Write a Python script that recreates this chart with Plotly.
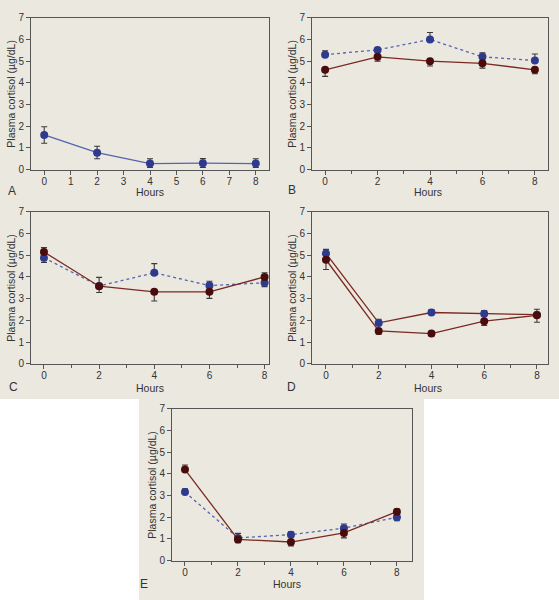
import plotly.graph_objects as go

W, H = 559, 600
BG = "#ebe8df"

hours = [0, 2, 4, 6, 8]

# Panel A (single series)
A_blue = [1.6, 0.78, 0.28, 0.30, 0.28]
A_blue_up = [0.38, 0.30, 0.22, 0.21, 0.22]
A_blue_dn = [0.38, 0.28, 0.18, 0.20, 0.18]

# Panel B
B_blue = [5.30, 5.52, 6.00, 5.20, 5.03]
B_blue_up = [0.18, 0.08, 0.32, 0.18, 0.30]
B_blue_dn = [0, 0, 0, 0, 0]
B_red = [4.60, 5.20, 5.00, 4.90, 4.60]
B_red_up = [0, 0, 0, 0, 0]
B_red_dn = [0.30, 0.20, 0.22, 0.22, 0.18]

# Panel C
C_blue = [4.88, 3.58, 4.19, 3.60, 3.73]
C_blue_up = [0, 0.40, 0.42, 0.20, 0]
C_blue_dn = [0.21, 0, 0, 0, 0.18]
C_red = [5.15, 3.57, 3.31, 3.31, 4.00]
C_red_up = [0.20, 0, 0, 0, 0.19]
C_red_dn = [0, 0.29, 0.42, 0.30, 0]

# Panel D
D_blue = [5.08, 1.88, 2.36, 2.30, 2.26]
D_blue_up = [0.19, 0.17, 0.14, 0.15, 0.25]
D_blue_dn = [0, 0, 0, 0, 0]
D_red = [4.79, 1.51, 1.39, 1.96, 2.23]
D_red_up = [0, 0, 0, 0, 0]
D_red_dn = [0.45, 0.15, 0.11, 0.20, 0.32]

# Panel E
E_blue = [3.16, 1.05, 1.20, 1.50, 2.00]
E_blue_up = [0.15, 0.21, 0.13, 0.19, 0]
E_blue_dn = [0, 0, 0, 0, 0.16]
E_red = [4.20, 0.98, 0.86, 1.28, 2.26]
E_red_up = [0.21, 0, 0, 0, 0.12]
E_red_dn = [0, 0.15, 0.18, 0.23, 0]

y_title = "Plasma cortisol (µg/dL)"
x_title = "Hours"
panel_letters = ["A", "B", "C", "D", "E"]

BLUE_M = "#2d3a8e"
BLUE_L = "#5563b0"
RED_M = "#4a0b0b"
RED_L = "#7a2a22"
ERR_C = "#3a3a3a"

# pixel boxes: (left, right, top, bottom), x-range
panels = {
    "A": dict(box=(31, 269, 12, 167), xr=[-0.5, 8.5], dtick=1, minor=False),
    "B": dict(box=(312, 548, 12, 167), xr=[-0.5, 8.5], dtick=2, minor=True),
    "C": dict(box=(31, 269, 210, 365), xr=[-0.47, 8.16], dtick=2, minor=True),
    "D": dict(box=(312, 548, 210, 365), xr=[-0.53, 8.42], dtick=2, minor=True),
    "E": dict(box=(172, 412, 411, 566), xr=[-0.49, 8.57], dtick=2, minor=True),
}
letter_pos = {"A": (12, 189), "B": (292, 188), "C": (13, 389), "D": (291, 389), "E": (144, 590)}
hours_pos = {"A": (150, 190), "B": (428, 190), "C": (150, 390), "D": (428, 390), "E": (287, 590)}
ytitle_x = {"A": 11, "B": 292, "C": 11, "D": 292, "E": 152}

series = {
    "A": [(A_blue, A_blue_up, A_blue_dn, BLUE_M, BLUE_L, "solid")],
    "B": [(B_blue, B_blue_up, B_blue_dn, BLUE_M, BLUE_L, "dot"),
          (B_red, B_red_up, B_red_dn, RED_M, RED_L, "solid")],
    "C": [(C_blue, C_blue_up, C_blue_dn, BLUE_M, BLUE_L, "dot"),
          (C_red, C_red_up, C_red_dn, RED_M, RED_L, "solid")],
    "D": [(D_blue, D_blue_up, D_blue_dn, BLUE_M, RED_L, "solid"),
          (D_red, D_red_up, D_red_dn, RED_M, RED_L, "solid")],
    "E": [(E_blue, E_blue_up, E_blue_dn, BLUE_M, BLUE_L, "dot"),
          (E_red, E_red_up, E_red_dn, RED_M, RED_L, "solid")],
}

fig = go.Figure()
FONT = "Liberation Sans, Arial, sans-serif"
annotations = []
layout_axes = {}


def ann(text, px, py, size, angle=0):
    return dict(text=text, x=px / W, y=1 - py / H, xref="paper", yref="paper",
                xanchor="center", yanchor="middle", textangle=angle, showarrow=False,
                font=dict(size=size, color="#333", family=FONT))


for i, key in enumerate(panel_letters):
    p = panels[key]
    l, r, t, b = p["box"]
    n = "" if i == 0 else str(i + 1)
    xa, ya = "x" + n, "y" + n
    for (vals, up, dn, mc, lc, dash) in series[key]:
        fig.add_trace(go.Scatter(
            x=hours, y=vals, xaxis=xa, yaxis=ya, mode="lines+markers",
            line=dict(color=lc, width=1.3, dash=dash),
            marker=dict(color=mc, size=8),
            error_y=dict(type="data", symmetric=False, array=up, arrayminus=dn,
                         color=ERR_C, thickness=1.1, width=3),
            showlegend=False, hoverinfo="x+y"))
    axis_common = dict(showgrid=False, zeroline=False, showline=True, linecolor="#555",
                       linewidth=1, mirror=True, ticks="outside", ticklen=4,
                       tickcolor="#555", tickfont=dict(size=10, color="#333", family=FONT))
    xaxis = dict(domain=[l / W, r / W], range=p["xr"], anchor=ya, tick0=0,
                 dtick=p["dtick"], ticklabelstandoff=-2, **axis_common)
    if p["minor"]:
        xaxis["minor"] = dict(dtick=1, tick0=0, ticks="outside", ticklen=3, tickcolor="#555")
    yaxis = dict(domain=[1 - b / H, 1 - t / H], range=[0, 7], anchor=xa, tick0=0,
                 dtick=1, **axis_common)
    layout_axes["xaxis" + n] = xaxis
    layout_axes["yaxis" + n] = yaxis

    lx, ly = letter_pos[key]
    annotations.append(ann(key, lx, ly, 12))
    hx, hy = hours_pos[key]
    annotations.append(ann(x_title, hx, hy, 10.5))
    annotations.append(ann(y_title, ytitle_x[key], (t + b) / 2, 10.5, -90))

shapes = [
    dict(type="rect", xref="paper", yref="paper", x0=0, x1=139 / W, y0=-0.05, y1=1 - 401 / H,
         fillcolor="white", line=dict(width=0), layer="below"),
    dict(type="rect", xref="paper", yref="paper", x0=424 / W, x1=1, y0=-0.05, y1=1 - 401 / H,
         fillcolor="white", line=dict(width=0), layer="below"),
]

fig.update_layout(width=W, height=H, margin=dict(l=0, r=0, t=0, b=0),
                  paper_bgcolor=BG, plot_bgcolor="rgba(0,0,0,0)",
                  annotations=annotations, shapes=shapes, **layout_axes)

page_css = (
    "var s=document.createElement('style');"
    "s.textContent='html,body{margin:0;padding:0;overflow:hidden;height:600px;width:559px;}';"
    "document.head.appendChild(s);"
)
fig.write_html("out.html", config={"displayModeBar": False}, post_script=page_css)
